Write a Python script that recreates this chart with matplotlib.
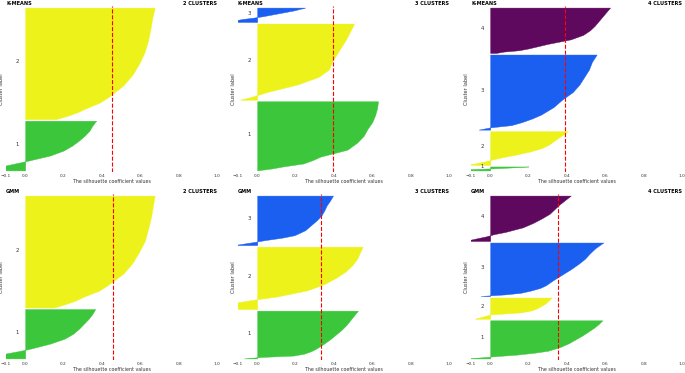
import numpy as np
import matplotlib
matplotlib.use("Agg")
import matplotlib.pyplot as plt

plt.rc('font', family='DejaVu Sans')

# quantile positions (bottom -> top of each cluster band) at which silhouette values were read
Q = [0, 0.03, 0.06, 0.1, 0.15, 0.2, 0.3, 0.4, 0.5, 0.6, 0.7, 0.8, 0.9, 1.0]

cluster_colors = ["#3bc63b", "#eef21b", "#1b5ff0", "#5e085e"]

# K-MEANS
km2_sizes = [308, 692]
km2_vals = [
    [-0.22, -0.16, -0.13, -0.10, -0.04, 0.02, 0.13, 0.20, 0.245, 0.28, 0.31, 0.335, 0.35, 0.37],
    [0.16, 0.22, 0.27, 0.32, 0.39, 0.435, 0.51, 0.56, 0.595, 0.622, 0.64, 0.652, 0.662, 0.675],
]
km3_sizes = [433, 477, 90]
km3_vals = [
    [0.0, 0.08, 0.14, 0.24, 0.29, 0.33, 0.47, 0.52, 0.555, 0.575, 0.60, 0.615, 0.625, 0.63],
    [-0.09, -0.04, 0.0, 0.05, 0.13, 0.21, 0.32, 0.375, 0.39, 0.415, 0.44, 0.465, 0.485, 0.505],
    [-0.17, -0.15, -0.14, -0.12, -0.10, -0.08, -0.02, 0.03, 0.07, 0.11, 0.15, 0.19, 0.22, 0.25],
]
km4_sizes = [25, 213, 475, 287]
km4_vals = [
    [-0.2, -0.19, -0.18, -0.17, -0.15, -0.13, -0.11, -0.06, 0.0, 0.05, 0.09, 0.13, 0.17, 0.2],
    [-0.15, -0.09, -0.065, -0.03, 0.005, 0.04, 0.13, 0.21, 0.27, 0.305, 0.33, 0.355, 0.38, 0.405],
    [-0.06, 0.0, 0.11, 0.165, 0.22, 0.265, 0.33, 0.375, 0.43, 0.465, 0.49, 0.515, 0.53, 0.555],
    [0.03, 0.07, 0.15, 0.20, 0.25, 0.30, 0.42, 0.485, 0.52, 0.545, 0.565, 0.585, 0.605, 0.625],
]

# GMM
gmm2_sizes = [306, 694]
gmm2_vals = [
    [-0.21, -0.16, -0.13, -0.10, -0.03, 0.03, 0.13, 0.205, 0.25, 0.28, 0.305, 0.33, 0.35, 0.365],
    [0.15, 0.21, 0.26, 0.31, 0.385, 0.43, 0.51, 0.56, 0.595, 0.625, 0.64, 0.655, 0.665, 0.675],
]
gmm3_sizes = [299, 391, 310]
gmm3_vals = [
    [-0.07, 0.02, 0.19, 0.245, 0.28, 0.305, 0.345, 0.38, 0.41, 0.44, 0.465, 0.485, 0.505, 0.525],
    [-0.2, -0.17, -0.15, -0.12, -0.02, 0.10, 0.26, 0.35, 0.41, 0.46, 0.495, 0.52, 0.535, 0.55],
    [-0.12, -0.07, -0.02, 0.04, 0.13, 0.195, 0.25, 0.28, 0.31, 0.335, 0.35, 0.362, 0.38, 0.395],
]
gmm4_sizes = [241, 134, 338, 287]
gmm4_vals = [
    [-0.12, -0.04, 0.03, 0.14, 0.23, 0.30, 0.365, 0.41, 0.445, 0.48, 0.51, 0.54, 0.565, 0.585],
    [-0.08, -0.07, -0.055, -0.04, -0.02, 0.0, 0.16, 0.22, 0.245, 0.265, 0.285, 0.298, 0.31, 0.32],
    [-0.05, 0.08, 0.16, 0.21, 0.26, 0.29, 0.33, 0.375, 0.42, 0.46, 0.495, 0.52, 0.55, 0.59],
    [-0.13, -0.10, -0.067, -0.022, 0.02, 0.08, 0.17, 0.225, 0.27, 0.31, 0.335, 0.36, 0.39, 0.42],
]

km_avg = [0.452, 0.397, 0.391]
gmm_avg = [0.457, 0.333, 0.351]

rows = [
    ("K-MEANS", [km2_sizes, km3_sizes, km4_sizes], [km2_vals, km3_vals, km4_vals], km_avg),
    ("GMM", [gmm2_sizes, gmm3_sizes, gmm4_sizes], [gmm2_vals, gmm3_vals, gmm4_vals], gmm_avg),
]

W, H = 685, 373
fig = plt.figure(figsize=(W / 100, H / 100), dpi=100)
col_left = [6, 238, 471]
row_top = [6, 194]
ax_w, ax_h = 211, 166

for r, (name, sizes_list, vals_list, avgs) in enumerate(rows):
    for c in range(3):
        ax = fig.add_axes([col_left[c] / W, (H - row_top[r] - ax_h) / H, ax_w / W, ax_h / H])
        sizes = sizes_list[c]
        vals = vals_list[c]
        k = len(sizes)
        y_lower = 10
        for i in range(k):
            y = y_lower + np.array(Q) * sizes[i]
            ax.fill_betweenx(y, 0, vals[i], facecolor=cluster_colors[i],
                             edgecolor=cluster_colors[i], linewidth=0.3)
            ax.text(-0.05, y_lower + 0.5 * sizes[i], str(i + 1), fontsize=3.9, color="#333333")
            y_lower += sizes[i] + 10
        ax.axvline(x=avgs[c], color="red", linestyle="--", linewidth=0.8)
        ax.set_xlim([-0.1, 1])
        ax.set_ylim([0, sum(sizes) + (k + 1) * 10])
        ax.set_yticks([])
        ax.set_xticks([-0.1, 0, 0.2, 0.4, 0.6, 0.8, 1])
        ax.set_xticklabels(["\u22120.1", "0.0", "0.2", "0.4", "0.6", "0.8", "1.0"])
        ax.tick_params(axis="x", length=0, pad=1.2, labelsize=3.1, colors="#333333")
        ax.set_xlabel("The silhouette coefficient values", fontsize=3.4, labelpad=1.0, color="#333333")
        ax.set_ylabel("Cluster label", fontsize=3.6, labelpad=1.3, color="#333333")
        ax.set_title(name, loc="left", fontsize=3.6, fontweight="bold", pad=0.3)
        ax.set_title(str(k) + " CLUSTERS", loc="right", fontsize=3.6, fontweight="bold", pad=0.3)
        for s in ax.spines.values():
            s.set_visible(False)

fig.savefig("out.png", dpi=100)
